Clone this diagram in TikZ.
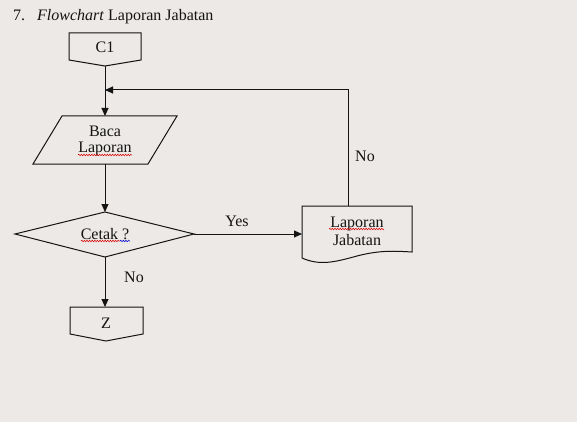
\documentclass[tikz,border=0pt]{standalone}
\usepackage{fontspec}
\setmainfont{Liberation Serif}
\usetikzlibrary{arrows.meta,decorations.pathmorphing}
\definecolor{bg}{RGB}{236,233,230}
\definecolor{ink}{RGB}{20,20,20}
\begin{document}
\begin{tikzpicture}[x=1pt,y=-1pt,
  outline/.style={draw=ink,line width=1pt,line join=miter},
  conn/.style={draw=ink,line width=1pt},
  arr/.style={conn,-{Triangle[length=8pt,width=7pt]}},
  txt/.style={font=\fontsize{16}{17}\selectfont,inner sep=0pt,text=ink},
  redsq/.style={draw=red!85!black,line width=0.5pt,decorate,decoration={snake,segment length=2.6pt,amplitude=0.8pt}},
  bluesq/.style={draw=blue!80!black,line width=0.5pt,decorate,decoration={snake,segment length=2.6pt,amplitude=0.8pt}}]
\fill[bg] (0,0) rectangle (577,422);
\useasboundingbox (0,0) rectangle (577,422);

% title
\node[txt,anchor=base west] (num) at (13,21) {7.};
\node[txt,anchor=base west] (title) at (37,21) {\textit{Flowchart} Laporan Jabatan};

% C1 off-page connector
\draw[outline] (69,33) -- (141,33) -- (141,60) -- (105,66) -- (69,60) -- cycle;
\coordinate (c1bot) at (105,66);
\node[txt,anchor=base] (c1) at (105,53) {C1};

% Baca Laporan parallelogram
\draw[outline] (62,116) -- (177,116) -- (148,164) -- (33,164) -- cycle;
\coordinate (bacatop) at (105,116);
\coordinate (bacabot) at (105,164);
\coordinate (join) at (105,90);
\node[txt,anchor=base] (baca1) at (105,137) {Baca};
\node[txt,anchor=base] (baca2) at (105,153) {Laporan};
\draw[redsq] (78,155) -- (132,155);

% Decision
\draw[outline] (105,212) -- (194,234) -- (105,257) -- (15,234) -- cycle;
\coordinate (dectop) at (105,212);
\coordinate (decright) at (194,234);
\coordinate (decbot) at (105,257);
\node[txt,anchor=base] (cetak) at (105,239) {Cetak ?};
\draw[redsq] (81,241) -- (120,241);
\draw[bluesq] (120,241) -- (130,241);

% Z connector
\draw[outline] (70,307) -- (143,307) -- (143,334) -- (106,341) -- (70,334) -- cycle;
\coordinate (ztop) at (105,307);
\node[txt,anchor=base] (z) at (106,328) {Z};

% Document
\draw[outline] (302,206) -- (412,206) -- (412,252)
  .. controls (395,251) and (380,250) .. (357,256)
  .. controls (335,262) and (320,266) .. (302,258) -- cycle;
\coordinate (docleft) at (302,234);
\coordinate (doctop) at (348,206);
\node[txt,anchor=base] (doc1) at (357,227) {Laporan};
\node[txt,anchor=base] (doc2) at (357,245) {Jabatan};
\draw[redsq] (329,229) -- (384,229);

% connectors
\draw[arr] (c1bot) -- (bacatop);
\draw[arr] (bacabot) -- (dectop);
\draw[arr] (decbot) -- (ztop);
\draw[arr] (decright) -- (docleft);
\draw[arr] (doctop) |- (join);

% labels
\node[txt,anchor=base] (yes) at (237,226) {Yes};
\node[txt,anchor=base] (no1) at (134,282) {No};
\node[txt,anchor=base] (no2) at (365,161) {No};
\end{tikzpicture}
\end{document}
